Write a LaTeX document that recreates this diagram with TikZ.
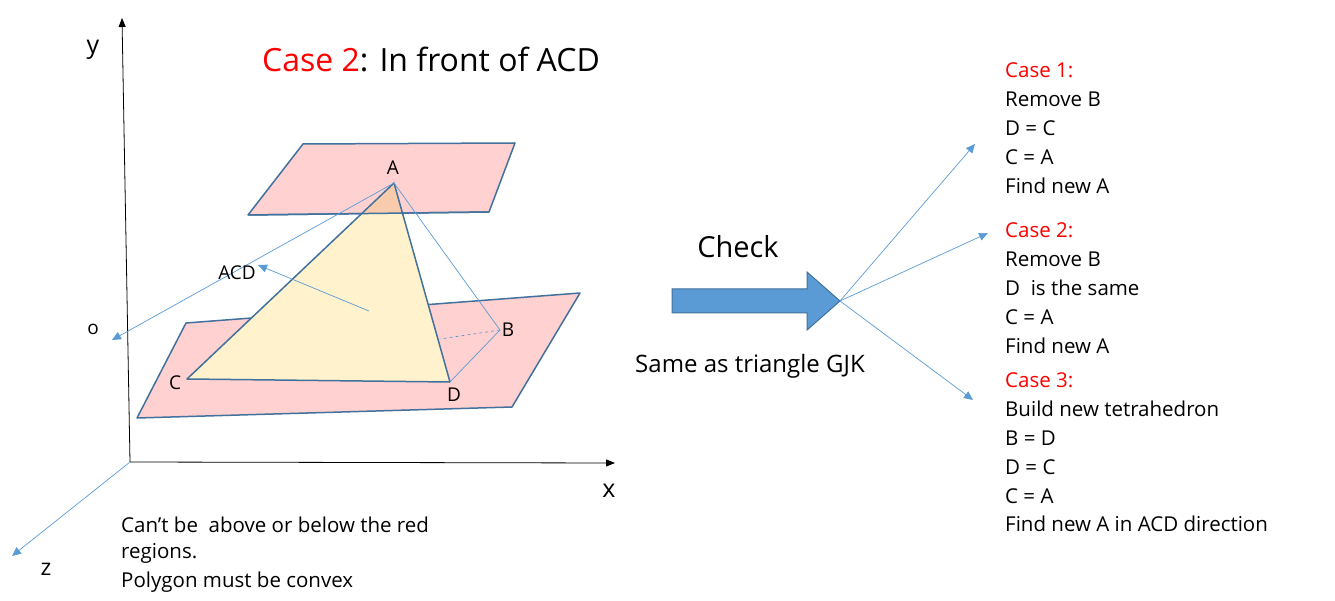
\documentclass[tikz,border=0pt]{standalone}
\usepackage{fontspec}
\setmainfont{Open Sans}
\usetikzlibrary{arrows.meta}
\definecolor{bl}{HTML}{5B9BD5}
\definecolor{edge}{HTML}{41719C}
\definecolor{pinkf}{HTML}{FFD1D1}
\definecolor{yel}{HTML}{FFF2CC}
\definecolor{org}{HTML}{F8CBAD}
\begin{document}
\begin{tikzpicture}[x=1pt,y=-1pt,
 plane/.style={fill=pinkf,draw=edge,line width=1.5pt,line join=round},
 thin/.style={draw=bl,line width=0.7pt},
 tip/.style={-{Triangle[length=9pt,width=8pt]}},
 axis/.style={draw=black,line width=0.8pt,-{Triangle[length=9pt,width=7pt]}},
 lab/.style={font=\fontsize{19}{22}\selectfont,inner sep=0pt},
 rt/.style={font=\fontsize{20.5}{24}\selectfont,inner sep=0pt,anchor=west}]
\useasboundingbox (0,0) rectangle (1335,601);
% axes
\coordinate (O) at (130,462);
\coordinate (Yend) at (122,18);
\coordinate (Xend) at (615,463);
\coordinate (Zend) at (12,556);
\draw[axis] (O) -- (Yend);
\draw[axis] (O) -- (Xend);
\draw[thin,tip] (O) -- (Zend);
\node[font=\fontsize{25}{28}\selectfont,inner sep=0pt] (ly) at (93,50) {y};
\node[font=\fontsize{25}{28}\selectfont,inner sep=0pt] (lx) at (609,491) {x};
\node[font=\fontsize{23}{26}\selectfont,inner sep=0pt] (lz) at (46,569) {z};
\node[lab] (lo) at (93,329) {o};
% planes
\draw[plane] (186,323) -- (580,293) -- (512,407) -- (137,418) -- cycle;
\draw[plane] (303,144) -- (515,143) -- (489,212) -- (248,215) -- cycle;
% triangle
\coordinate (A) at (394,183);
\coordinate (C) at (187,379);
\coordinate (D) at (450,382);
\coordinate (B) at (500,330);
\coordinate (M) at (440,339);
\fill[yel] (A) -- (C) -- (D) -- cycle;
\begin{scope}
\clip (303,144) -- (515,143) -- (489,212) -- (248,215) -- cycle;
\fill[org] (A) -- (C) -- (D) -- cycle;
\end{scope}
\draw[draw=edge,line width=1.5pt] (248,215) -- (489,212);
\draw[draw=edge,line width=1.5pt,line join=round] (A) -- (C) -- (D) -- cycle;
\draw[thin] (A) -- (B) -- (D);
\draw[thin,dashed] (B) -- (M);
\coordinate (Oarr) at (112,340);
\draw[thin,tip] (A) -- (Oarr);
\coordinate (N0) at (369,311);
\coordinate (N1) at (258,265);
\draw[thin,tip] (N0) -- (N1);
\node[lab] (lA) at (393,168) {A};
\node[lab] (lB) at (508,330) {B};
\node[lab] (lC) at (175,383) {C};
\node[lab] (lD) at (454,395) {D};
\node[lab] (lACD) at (237,273) {ACD};
% title
\node[font=\fontsize{32}{36}\selectfont,inner sep=0pt] (title) at (431,59) {\textcolor{red}{Case 2}: In front of ACD};
% big arrow
\draw[fill=bl,draw=edge,line width=1pt,line join=miter] (672,289) -- (807,289) -- (807,272) -- (840,301) -- (807,330) -- (807,313) -- (672,313) -- cycle;
\coordinate (P) at (840,301);
\node[font=\fontsize{29}{32}\selectfont,inner sep=0pt] (check) at (738,247) {Check};
\node[font=\fontsize{24}{27}\selectfont,inner sep=0pt] (same) at (750,366) {Same as triangle GJK};
\coordinate (T1) at (975,144);
\coordinate (T2) at (988,233);
\coordinate (T3) at (973,400);
\draw[thin,tip] (P) -- (T1);
\draw[thin,tip] (P) -- (T2);
\draw[thin,tip] (P) -- (T3);
% right texts
\node[rt,text=red] (c1) at (1005,70) {Case 1:};
\node[rt] (c1a) at (1005,99) {Remove B};
\node[rt] (c1b) at (1005,128) {D = C};
\node[rt] (c1c) at (1005,157) {C = A};
\node[rt] (c1d) at (1005,186) {Find new A};
\node[rt,text=red] (c2) at (1005,230) {Case 2:};
\node[rt] (c2a) at (1005,259) {Remove B};
\node[rt] (c2b) at (1005,288) {D\ \ is the same};
\node[rt] (c2c) at (1005,317) {C = A};
\node[rt] (c2d) at (1005,346) {Find new A};
\node[rt,text=red] (c3) at (1005,380) {Case 3:};
\node[rt] (c3a) at (1005,409) {Build new tetrahedron};
\node[rt] (c3b) at (1005,438) {B = D};
\node[rt] (c3c) at (1005,467) {D = C};
\node[rt] (c3d) at (1005,496) {C = A};
\node[rt] (c3e) at (1005,524) {Find new A in ACD direction};
% bottom texts
\node[rt] (b1) at (121,525) {Can’t be\ \ above or below the red};
\node[rt] (b2) at (121,553) {regions.};
\node[rt] (b3) at (121,582) {Polygon must be convex};
\end{tikzpicture}
\end{document}
